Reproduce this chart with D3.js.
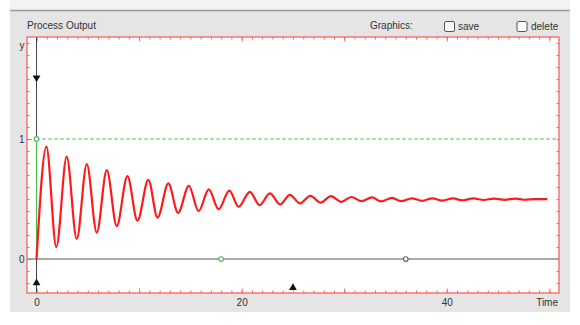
<!DOCTYPE html>
<html>
<head>
<meta charset="utf-8">
<script src="https://cdn.jsdelivr.net/npm/d3@7"></script>
<style>
  body { margin: 0; background: #fff; }
  svg text { font-family: "Liberation Sans", Arial, sans-serif; font-size: 10px; fill: #333; }
  .tick line { stroke: #f66; }
  .domain { display: none; }
</style>
</head>
<body>
<script>
// process output: peaks and troughs (time, value)
var times = [0, 0.96, 1.93, 2.94, 3.92, 4.9, 5.87, 6.85, 7.82, 8.86, 9.84,
  10.9, 11.8, 12.85, 13.8, 14.85, 15.8, 16.8, 17.75, 18.8, 19.7,
  20.8, 21.75, 22.75, 23.75, 24.7, 25.7, 26.7, 27.7, 28.7, 29.7,
  30.7, 31.7, 32.7, 33.6, 34.65, 35.55, 36.6, 37.6, 38.6, 39.55,
  40.6, 41.5, 42.6, 43.6, 44.6, 45.6, 46.7, 47.6, 48.6, 49.8];
var output = [0, 0.936, 0.10, 0.853, 0.167, 0.79, 0.22, 0.74, 0.275, 0.69, 0.32,
  0.66, 0.345, 0.63, 0.385, 0.61, 0.40, 0.58, 0.415, 0.57, 0.435,
  0.56, 0.448, 0.547, 0.456, 0.535, 0.464, 0.527, 0.47, 0.524, 0.477,
  0.517, 0.482, 0.514, 0.48, 0.51, 0.482, 0.506, 0.485, 0.506, 0.487,
  0.505, 0.49, 0.505, 0.492, 0.504, 0.493, 0.504, 0.494, 0.499, 0.499];

// setpoint step
var spTimes = [0, 0];
var spValues = [0, 1];
var spLevel = 1;

// markers
var circleT = [0, 18, 36];
var circleY = [1, 0, 0];
var circleColor = ["#5cb85c", "#5cb85c", "#666"];
var triT = [0, 0, 25];
var triY = [1.51, -0.2, -0.24];
var triDir = ["down", "up", "up"];

var xLabels = [0, 20, 40];
var xMajor = [0, 10, 20, 30, 40, 50];
var yLabels = [0, 1];

var W = 580, H = 325;
var pLeft = 27, pRight = 559, pTop = 37, pBottom = 293;

var svg = d3.select("body").append("svg")
  .attr("width", W).attr("height", H);

// panel
svg.append("rect").attr("x", 10).attr("y", 0).attr("width", 560).attr("height", 10).attr("fill", "#f3f3f3");
svg.append("rect").attr("x", 10).attr("y", 10).attr("width", 560).attr("height", 302).attr("fill", "#e5e5e5");
svg.append("line").attr("x1", 10).attr("x2", 570).attr("y1", 10.5).attr("y2", 10.5)
  .attr("stroke", "#9a9a9a").attr("stroke-width", 1.5);

// header
svg.append("text").attr("x", 27).attr("y", 28.5).text("Process Output");
svg.append("text").attr("x", 370).attr("y", 29).text("Graphics:");
[["save", 444.5, 458], ["delete", 517, 531]].forEach(function(c) {
  svg.append("rect").attr("x", c[1]).attr("y", 21.5).attr("width", 10).attr("height", 10)
    .attr("rx", 1.5).attr("fill", "#fbfbfb").attr("stroke", "#555").attr("stroke-width", 1);
  svg.append("text").attr("x", c[2]).attr("y", 29.5).text(c[0]);
});

var x = d3.scaleLinear().domain([-0.93, 50.94]).range([pLeft, pRight]);
var y = d3.scaleLinear().domain([-0.283, 1.85]).range([pBottom, pTop]);

// plot area
svg.append("rect").attr("x", pLeft).attr("y", pTop)
  .attr("width", pRight - pLeft).attr("height", pBottom - pTop)
  .attr("fill", "#fff");

// ticks (inward)
var xMinor = d3.range(0, 51, 1);
var yMinor = d3.range(-2, 19, 1).map(function(d) { return d / 10; });
svg.append("g").attr("transform", "translate(0," + pBottom + ")")
  .call(d3.axisBottom(x).tickValues(xMinor).tickSizeInner(-2.5).tickSizeOuter(0).tickFormat(""));
svg.append("g").attr("transform", "translate(0," + pBottom + ")")
  .call(d3.axisBottom(x).tickValues(xMajor).tickSizeInner(-4.5).tickSizeOuter(0).tickFormat(""));
svg.append("g").attr("transform", "translate(0," + pTop + ")")
  .call(d3.axisTop(x).tickValues(xMinor).tickSizeInner(-2.5).tickSizeOuter(0).tickFormat(""));
svg.append("g").attr("transform", "translate(0," + pTop + ")")
  .call(d3.axisTop(x).tickValues(xMajor).tickSizeInner(-4.5).tickSizeOuter(0).tickFormat(""));
svg.append("g").attr("transform", "translate(" + pLeft + ",0)")
  .call(d3.axisLeft(y).tickValues(yMinor).tickSizeInner(-2.5).tickSizeOuter(0).tickFormat(""));
svg.append("g").attr("transform", "translate(" + pLeft + ",0)")
  .call(d3.axisLeft(y).tickValues(yLabels).tickSizeInner(-4.5).tickSizeOuter(0).tickFormat(""));
svg.append("g").attr("transform", "translate(" + pRight + ",0)")
  .call(d3.axisRight(y).tickValues(yMinor).tickSizeInner(-2.5).tickSizeOuter(0).tickFormat(""));

// labels
svg.append("g").attr("transform", "translate(0," + pBottom + ")")
  .call(d3.axisBottom(x).tickValues(xLabels).tickSize(0).tickPadding(6).tickFormat(d3.format("d")))
  .selectAll("text").style("font-size", "10px").attr("fill", "#333");
svg.append("g").attr("transform", "translate(" + pLeft + ",0)")
  .call(d3.axisLeft(y).tickValues(yLabels).tickSize(0).tickPadding(2.5).tickFormat(d3.format("d")))
  .selectAll("text").style("font-size", "10px").attr("fill", "#333");
svg.append("text").attr("x", 558).attr("y", 306).attr("text-anchor", "end").text("Time");
svg.append("text").attr("x", 22).attr("y", 49).attr("text-anchor", "middle").text("y");

// zero line
svg.append("line").attr("x1", pLeft).attr("x2", pRight)
  .attr("y1", y(0)).attr("y2", y(0))
  .attr("stroke", "#8c8c8c").attr("stroke-width", 1.5);

// vertical line at t = 0
svg.append("line").attr("x1", x(0)).attr("x2", x(0))
  .attr("y1", y(1.85)).attr("y2", y(1))
  .attr("stroke", "#444").attr("stroke-width", 1);
svg.append("line").attr("x1", x(0)).attr("x2", x(0))
  .attr("y1", y(0)).attr("y2", y(-0.283))
  .attr("stroke", "#444").attr("stroke-width", 1);

// setpoint
svg.append("path")
  .datum(d3.zip(spTimes, spValues))
  .attr("d", d3.line().x(function(d) { return x(d[0]); }).y(function(d) { return y(d[1]); }))
  .attr("stroke", "#4cbb4c").attr("stroke-width", 1.2).attr("fill", "none");
svg.append("line").attr("x1", x(0)).attr("x2", pRight - 2)
  .attr("y1", y(spLevel)).attr("y2", y(spLevel))
  .attr("stroke", "#6fcf6f").attr("stroke-width", 1.5).attr("stroke-dasharray", "3,3");

// border
svg.append("rect").attr("x", pLeft).attr("y", pTop)
  .attr("width", pRight - pLeft).attr("height", pBottom - pTop)
  .attr("fill", "none").attr("stroke", "#f55").attr("stroke-width", 1.2);

// process output curve
svg.append("path")
  .datum(d3.zip(times, output))
  .attr("d", d3.line().curve(d3.curveMonotoneX)
    .x(function(d) { return x(d[0]); }).y(function(d) { return y(d[1]); }))
  .attr("stroke", "#ff1a1a").attr("stroke-width", 2.2).attr("fill", "none")
  .attr("stroke-linejoin", "round");

// markers
svg.selectAll("circle.mk")
  .data(d3.range(circleT.length))
  .enter().append("circle").attr("class", "mk")
  .attr("cx", function(i) { return x(circleT[i]); })
  .attr("cy", function(i) { return y(circleY[i]); })
  .attr("r", 2.3)
  .attr("fill", "#fff")
  .attr("stroke", function(i) { return circleColor[i]; })
  .attr("stroke-width", 1.2);

var tri = d3.symbol().type(d3.symbolTriangle).size(26);
svg.selectAll("path.tri")
  .data(d3.range(triT.length))
  .enter().append("path").attr("class", "tri")
  .attr("d", tri)
  .attr("transform", function(i) {
    return "translate(" + x(triT[i]) + "," + y(triY[i]) + ")" + (triDir[i] === "down" ? " rotate(180)" : "");
  })
  .attr("fill", "#111");
</script>
</body>
</html>
